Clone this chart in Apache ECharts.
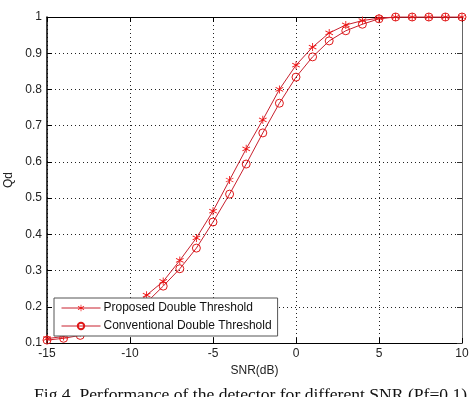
<!DOCTYPE html>
<html>
<head>
<meta charset="utf-8">
<script src="https://cdn.jsdelivr.net/npm/echarts@6/dist/echarts.min.js"></script>
<style>
  html, body { margin: 0; padding: 0; background: #fff; }
  #chart { width: 474px; height: 397px; }
</style>
</head>
<body>
<div id="chart"></div>
<script>
  // SNR (dB) sample points
  var snr = [-15, -14, -13, -12, -11, -10, -9, -8, -7, -6, -5, -4, -3, -2, -1, 0, 1, 2, 3, 4, 5, 6, 7, 8, 9, 10];
  // Qd of the proposed double threshold detector
  var proposed = [0.112, 0.118, 0.128, 0.143, 0.163, 0.192, 0.232, 0.270, 0.328, 0.390, 0.464, 0.550, 0.636, 0.716, 0.800, 0.867, 0.917, 0.956, 0.978, 0.990, 0.997, 1, 1, 1, 1, 1];
  // Qd of the conventional double threshold detector
  var conventional = [0.108, 0.113, 0.121, 0.134, 0.151, 0.176, 0.212, 0.257, 0.305, 0.362, 0.434, 0.511, 0.594, 0.680, 0.762, 0.834, 0.890, 0.934, 0.962, 0.980, 0.995, 1, 1, 1, 1, 1];
  var seriesNames = ['Proposed Double Threshold', 'Conventional Double Threshold'];
  var caption = 'Fig.4. Performance of the detector for different SNR (Pf=0.1)';

  function pairs(ys) {
    return snr.map(function (x, i) { return [x, ys[i]]; });
  }

  // asterisk marker like matlab '*'
  var star = 'path://M9,0L11,0L11,20L9,20Z' +
    'M1.84,4.13L19.16,14.13L18.16,15.87L0.84,5.87Z' +
    'M0.84,14.13L18.16,4.13L19.16,5.87L1.84,15.87Z';

  var font = 'Liberation Sans, Arial, sans-serif';
  var chart = echarts.init(document.getElementById('chart'));

  var option = {
    backgroundColor: '#fff',
    animation: false,
    grid: { left: 47, right: 12, top: 17, bottom: 54, containLabel: false, outerBoundsMode: 'none' },
    legend: {
      data: seriesNames,
      orient: 'vertical',
      left: 54,
      top: 298,
      padding: [4, 6, 4, 7],
      itemGap: 6,
      itemWidth: 39,
      itemHeight: 8,
      backgroundColor: '#fff',
      borderColor: '#555',
      borderWidth: 1,
      selectedMode: false,
      lineStyle: { width: 1 },
      textStyle: { fontFamily: font, fontSize: 12, color: '#111', padding: [0, 0, 0, -2] }
    },
    graphic: [{
      type: 'text',
      left: 34,
      top: 386,
      style: { text: caption, font: '17.6px "Liberation Serif", serif', fill: '#111' }
    }],
    xAxis: [{
      type: 'value',
      min: -15, max: 10, interval: 5,
      name: 'SNR(dB)',
      nameLocation: 'middle',
      nameGap: 21,
      nameTextStyle: { fontFamily: font, fontSize: 12, color: '#222' },
      axisLine: { show: true, onZero: false, lineStyle: { color: '#000', width: 1 } },
      axisTick: { show: true, inside: true, length: 5, lineStyle: { color: '#000' } },
      axisLabel: { fontFamily: font, fontSize: 12, color: '#222', margin: 5 },
      splitLine: { show: true, lineStyle: { color: '#222', type: [1, 3], width: 1 } }
    }, {
      type: 'value', position: 'top',
      min: -15, max: 10, interval: 5,
      axisLine: { show: true, onZero: false, lineStyle: { color: '#000', width: 1 } },
      axisTick: { show: true, inside: true, length: 5, lineStyle: { color: '#000' } },
      axisLabel: { show: false },
      splitLine: { show: false }
    }],
    yAxis: [{
      type: 'value',
      min: 0.1, max: 1, interval: 0.1,
      name: 'Qd',
      nameLocation: 'middle',
      nameGap: 30,
      nameTextStyle: { fontFamily: font, fontSize: 12, color: '#222' },
      axisLine: { show: true, onZero: false, lineStyle: { color: '#000', width: 1.5 } },
      axisTick: { show: true, inside: true, length: 5, lineStyle: { color: '#000' } },
      axisLabel: {
        fontFamily: font, fontSize: 12, color: '#222', margin: 5,
        formatter: function (v) { return Math.abs(v - 1) < 1e-9 ? '1' : v.toFixed(1); }
      },
      splitLine: { show: true, lineStyle: { color: '#222', type: [1, 3], width: 1 } }
    }, {
      type: 'value', position: 'right',
      min: 0.1, max: 1, interval: 0.1,
      axisLine: { show: true, onZero: false, lineStyle: { color: '#666', width: 1 } },
      axisTick: { show: true, inside: true, length: 5, lineStyle: { color: '#333' } },
      axisLabel: { show: false },
      splitLine: { show: false }
    }],
    series: [{
      name: seriesNames[0],
      type: 'line',
      data: pairs(proposed),
      symbol: star,
      symbolSize: 8,
      lineStyle: { color: '#c8202e', width: 1 },
      itemStyle: { color: '#ee1111' },
      emphasis: { disabled: true },
      z: 3
    }, {
      name: seriesNames[1],
      type: 'line',
      data: pairs(conventional),
      symbol: 'circle',
      symbolSize: 8,
      lineStyle: { color: '#c8202e', width: 1 },
      itemStyle: { color: 'rgba(255,255,255,0)', borderColor: '#e01818', borderWidth: 1 },
      emphasis: { disabled: true },
      z: 3
    }]
  };

  chart.setOption(option);
</script>
</body>
</html>
